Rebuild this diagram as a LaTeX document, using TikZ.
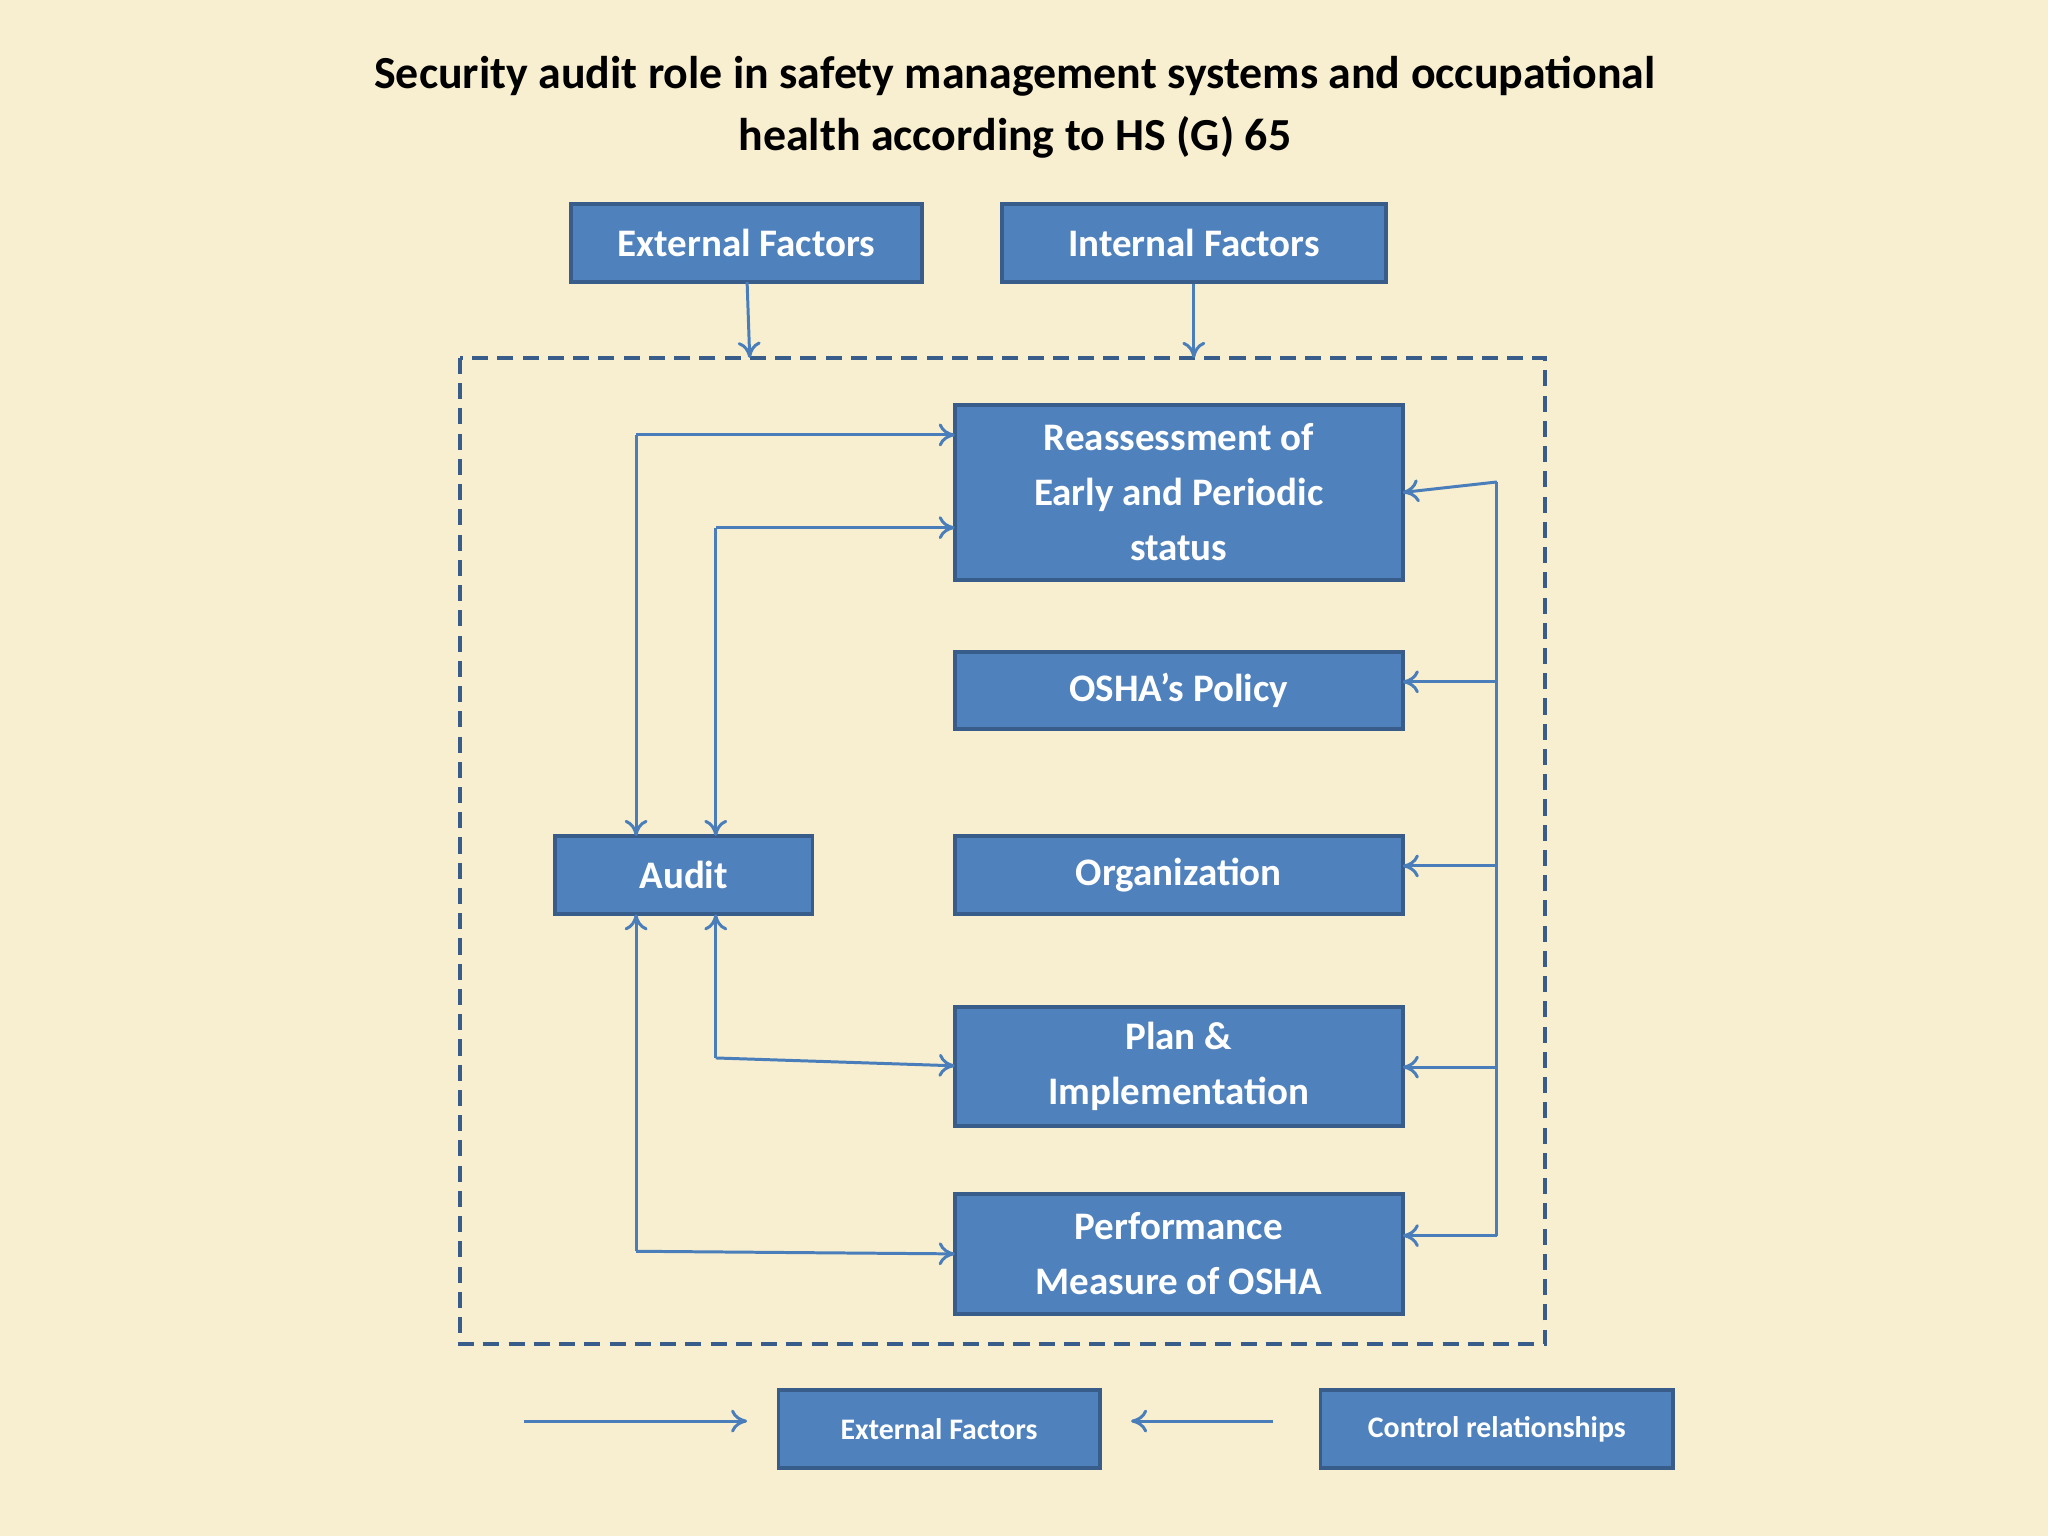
\documentclass[tikz,border=0pt]{standalone}
\usepackage{fontspec}
\setmainfont{Carlito}
\usetikzlibrary{arrows.meta}
\definecolor{bg}{HTML}{F8EFD0}
\definecolor{bx}{HTML}{4F81BD}
\definecolor{bd}{HTML}{385D8A}
\definecolor{ln}{HTML}{4A7EBB}
\begin{document}
\begin{tikzpicture}[x=0.02cm,y=-0.02cm,
  bbox/.style={draw=bd,fill=bx,line width=1.6pt,text=white,font=\bfseries\fontsize{17}{24}\selectfont,align=center,inner sep=0pt},
  conn/.style={ln,line width=1.3pt,-{To[length=7pt,width=10pt]}},
  plain/.style={ln,line width=1.3pt}]
\fill[bg] (0,0) rectangle (1568,1176);
\useasboundingbox (0,0) rectangle (1568,1176);
\node[font=\bfseries\fontsize{20}{27}\selectfont,align=center] (title) at (777,82) {Security audit role in safety management systems and occupational\\health according to HS (G) 65};
\draw[bd,line width=1.8pt,dash pattern=on 7pt off 4pt] (352,274) rectangle (1183,1029);
\coordinate (dtl) at (574,274); \coordinate (dtr) at (914,274);
\newcommand\bxx[6]{\node[bbox,minimum width=#4*0.02cm,minimum height=#5*0.02cm] (#1) at (#2,#3) {#6};}
\bxx{ext}{571.5}{186}{269}{60}{External Factors}
\bxx{int}{914}{186}{294}{60}{Internal Factors}
\bxx{re}{902.5}{377}{343}{134}{Reassessment of\\Early and Periodic\\status}
\bxx{osha}{902.5}{528.5}{343}{59}{OSHA’s Policy}
\bxx{org}{902.5}{670}{343}{60}{Organization}
\bxx{plan}{902.5}{816.5}{343}{91}{Plan \&\\Implementation}
\bxx{perf}{902.5}{960}{343}{92}{Performance\\Measure of OSHA}
\bxx{aud}{523.5}{670}{197}{60}{Audit}
\node[bbox,font=\bfseries\fontsize{13}{16}\selectfont,minimum width=246*0.02cm,minimum height=60*0.02cm] (lext) at (719,1094) {External Factors};
\node[bbox,font=\bfseries\fontsize{13}{16}\selectfont,minimum width=270*0.02cm,minimum height=60*0.02cm] (lctl) at (1146,1094) {Control relationships};
\draw[conn] (572,216) -- (dtl);
\draw[conn] (int.south) -- (dtr);
% left loops
\coordinate (a1) at (487,333); \coordinate (a2) at (548,404);
\coordinate (b1) at (548,810); \coordinate (b2) at (487,958);
\draw[conn] (a1) -- (731,333);
\draw[conn] (a1) -- (487,640);
\draw[conn] (a2) -- (731,404);
\draw[conn] (a2) -- (548,640);
\draw[conn] (b1) -- (548,700);
\draw[conn] (b1) -- (731,816);
\draw[conn] (b2) -- (487,700);
\draw[conn] (b2) -- (731,960);
% right control line
\coordinate (r0) at (1146,369); \coordinate (r1) at (1146,946);
\draw[plain] (r0) -- (r1);
\draw[conn] (r0) -- (1074,377);
\draw[conn] (1146,522) -- (1074,522);
\draw[conn] (1146,663) -- (1074,663);
\draw[conn] (1146,817) -- (1074,817);
\draw[conn] (r1) -- (1074,946);
% legend
\coordinate (l1) at (401,1088); \coordinate (l2) at (975,1088);
\draw[conn] (l1) -- (572,1088);
\draw[conn] (l2) -- (866,1088);
\end{tikzpicture}
\end{document}
